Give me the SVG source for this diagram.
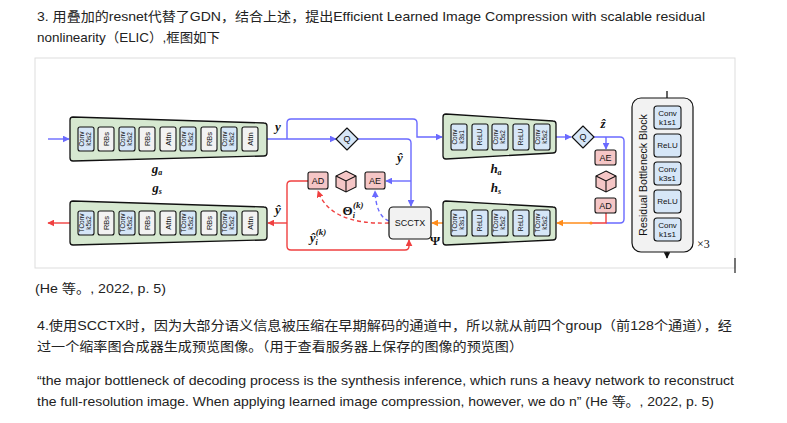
<svg xmlns="http://www.w3.org/2000/svg" width="787" height="423" viewBox="0 0 787 423">
<defs>
<style>
.t{font-family:"Liberation Sans","Noto Sans CJK SC",sans-serif;font-size:13px;fill:#222}
.trap{fill:#d6e8d0;stroke:#111;stroke-width:1.3}
.blk{fill:#f2f2f2;stroke:#111;stroke-width:1.1}
.bb{fill:#d6e6f7;stroke:#111;stroke-width:1.1}
.bl{font-family:"Liberation Sans",sans-serif;font-size:6.5px;fill:#111;text-anchor:middle}
.pk{fill:#f5c6c6;stroke:#111;stroke-width:1.1}
.lbl{font-family:"Liberation Serif",serif;font-weight:bold;font-style:italic;font-size:13px;fill:#111;text-anchor:middle}
.blue{fill:none;stroke:#6a6aff;stroke-width:1.4}
.red{fill:none;stroke:#f04040;stroke-width:1.4}
.org{fill:none;stroke:#ff8c1a;stroke-width:1.4}
.blk2{fill:none;stroke:#111;stroke-width:1.3}
</style>
<marker id="ab" viewBox="0 0 10 10" refX="9" refY="5" markerWidth="5" markerHeight="5" orient="auto"><path d="M0,0L10,5L0,10z" fill="#6a6aff"/></marker>
<marker id="ar" viewBox="0 0 10 10" refX="9" refY="5" markerWidth="5" markerHeight="5" orient="auto"><path d="M0,0L10,5L0,10z" fill="#f04040"/></marker>
<marker id="ao" viewBox="0 0 10 10" refX="9" refY="5" markerWidth="5" markerHeight="5" orient="auto"><path d="M0,0L10,5L0,10z" fill="#ff8c1a"/></marker>
<marker id="ak" viewBox="0 0 10 10" refX="9" refY="5" markerWidth="5" markerHeight="5" orient="auto"><path d="M0,0L10,5L0,10z" fill="#111"/></marker>
<g id="cubeg"><path d="M0,-10L10,-5L10,6L0,11L-10,6L-10,-5z" fill="#f5c6c6" stroke="#111" stroke-width="1.1"/><path d="M-10,-5L0,0L10,-5M0,0L0,11" fill="none" stroke="#111" stroke-width="1.1"/></g>
</defs>
<rect width="787" height="423" fill="#fff"/>
<text class="t" x="37" y="21" textLength="668" lengthAdjust="spacingAndGlyphs">3. 用叠加的resnet代替了GDN，结合上述，提出Efficient Learned Image Compression with scalable residual</text>
<text class="t" x="37" y="42" textLength="183" lengthAdjust="spacingAndGlyphs">nonlinearity（ELIC）,框图如下</text>
<rect x="35" y="58" width="700" height="210" fill="#fff" stroke="#ddd"/>
<line x1="735" y1="258" x2="735" y2="273" stroke="#222" stroke-width="1.2"/>

<g id="connectors">
<path class="blue" d="M48,139H69" marker-end="url(#ab)"/>
<path class="blue" d="M267,139H336" marker-end="url(#ab)"/>
<path class="blue" d="M287,139V123Q287,119 291,119H413Q417,119 417,123V137H442" marker-end="url(#ab)"/>
<path class="blue" d="M358,139H407Q411,139 411,143V206" marker-end="url(#ab)"/>
<path class="blue" d="M411,181H386" marker-end="url(#ab)"/>
<path class="blue" d="M556,137H571" marker-end="url(#ab)"/>
<path class="blue" d="M594,137H620Q624,137 624,141V219Q624,223 620,223H606"/>
<path class="blue" d="M606,137V149" marker-end="url(#ab)"/>
<path class="red" d="M606,213V223H591"/>
<path class="org" d="M591,223H557" marker-end="url(#ao)"/>
<circle cx="591" cy="223" r="1.6" fill="#ff8c1a"/>
<path class="org" d="M443,223H432" marker-end="url(#ao)"/>
<path class="red" d="M308,181H291Q287,181 287,185V246Q287,250 291,250H405Q409,250 409,246V240" marker-end="url(#ar)"/>
<path class="red" d="M287,223H268" marker-end="url(#ar)"/>
<path class="red" d="M70,223H48" marker-end="url(#ar)"/>
<path class="red" d="M389,223Q330,225 318,191" stroke-dasharray="4,3" marker-end="url(#ar)"/>
<path class="blue" d="M389,221Q376,216 375,191" stroke-dasharray="4,3" marker-end="url(#ab)"/>
<path class="blk2" d="M667,91V258" marker-end="url(#ak)"/>
<path class="blk2" d="M667,101H683Q687,101 687,105V242Q687,246 683,246H671" marker-end="url(#ak)"/>
</g>

<g id="ga">
<path class="trap" d="M73,117L264,123Q267,123 267,126V153Q267,156 264,156L73,161Q70,161 70,158V120Q70,117 73,117z"/>
<g transform="translate(0,127)">
<rect class="bb" x="78" width="16" height="24" rx="2"/><text class="bl" transform="translate(84,12) rotate(-90)">Conv</text><text class="bl" transform="translate(91,12) rotate(-90)">k5s2</text>
<rect class="blk" x="98" width="16" height="24" rx="2"/><text class="bl" style="font-size:7.5px" transform="translate(109,12) rotate(-90)">RBs</text>
<rect class="bb" x="119" width="16" height="24" rx="2"/><text class="bl" transform="translate(125,12) rotate(-90)">Conv</text><text class="bl" transform="translate(132,12) rotate(-90)">k5s2</text>
<rect class="blk" x="139" width="16" height="24" rx="2"/><text class="bl" style="font-size:7.5px" transform="translate(150,12) rotate(-90)">RBs</text>
<rect class="blk" x="160" width="16" height="24" rx="2"/><text class="bl" style="font-size:7.5px" transform="translate(171,12) rotate(-90)">Attn</text>
<rect class="bb" x="180" width="16" height="24" rx="2"/><text class="bl" transform="translate(186,12) rotate(-90)">Conv</text><text class="bl" transform="translate(193,12) rotate(-90)">k5s2</text>
<rect class="blk" x="201" width="16" height="24" rx="2"/><text class="bl" style="font-size:7.5px" transform="translate(212,12) rotate(-90)">RBs</text>
<rect class="bb" x="221" width="16" height="24" rx="2"/><text class="bl" transform="translate(227,12) rotate(-90)">Conv</text><text class="bl" transform="translate(234,12) rotate(-90)">k5s2</text>
<rect class="blk" x="242" width="16" height="24" rx="2"/><text class="bl" style="font-size:7.5px" transform="translate(253,12) rotate(-90)">Attn</text>
</g>
<text class="lbl" x="157" y="173">g<tspan font-size="8" dy="2">a</tspan></text>
</g>

<g id="gs">
<path class="trap" d="M73,201L264,207Q267,207 267,210V237Q267,240 264,240L73,245Q70,245 70,242V204Q70,201 73,201z"/>
<g transform="translate(0,211)">
<rect class="bb" x="78" width="16" height="24" rx="2"/><text class="bl" transform="translate(84,12) rotate(-90)">TConv</text><text class="bl" transform="translate(91,12) rotate(-90)">k5s2</text>
<rect class="blk" x="98" width="16" height="24" rx="2"/><text class="bl" style="font-size:7.5px" transform="translate(109,12) rotate(-90)">RBs</text>
<rect class="bb" x="119" width="16" height="24" rx="2"/><text class="bl" transform="translate(125,12) rotate(-90)">TConv</text><text class="bl" transform="translate(132,12) rotate(-90)">k5s2</text>
<rect class="blk" x="139" width="16" height="24" rx="2"/><text class="bl" style="font-size:7.5px" transform="translate(150,12) rotate(-90)">RBs</text>
<rect class="blk" x="160" width="16" height="24" rx="2"/><text class="bl" style="font-size:7.5px" transform="translate(171,12) rotate(-90)">Attn</text>
<rect class="bb" x="180" width="16" height="24" rx="2"/><text class="bl" transform="translate(186,12) rotate(-90)">TConv</text><text class="bl" transform="translate(193,12) rotate(-90)">k5s2</text>
<rect class="blk" x="201" width="16" height="24" rx="2"/><text class="bl" style="font-size:7.5px" transform="translate(212,12) rotate(-90)">RBs</text>
<rect class="bb" x="221" width="16" height="24" rx="2"/><text class="bl" transform="translate(227,12) rotate(-90)">TConv</text><text class="bl" transform="translate(234,12) rotate(-90)">k5s2</text>
<rect class="blk" x="242" width="16" height="24" rx="2"/><text class="bl" style="font-size:7.5px" transform="translate(253,12) rotate(-90)">Attn</text>
</g>
<text class="lbl" x="157" y="192">g<tspan font-size="8" dy="2">s</tspan></text>
</g>

<g id="ha">
<path class="trap" d="M446,114L553,121Q556,121 556,124V150Q556,153 553,153L446,159Q443,159 443,156V117Q443,114 446,114z"/>
<g transform="translate(0,124)">
<rect class="bb" x="451" width="16" height="26" rx="2"/><text class="bl" transform="translate(457,13) rotate(-90)">Conv</text><text class="bl" transform="translate(464,13) rotate(-90)">k3s1</text>
<rect class="bb" x="472" width="16" height="26" rx="2"/><text class="bl" transform="translate(482,13) rotate(-90)">ReLU</text>
<rect class="bb" x="492" width="16" height="26" rx="2"/><text class="bl" transform="translate(498,13) rotate(-90)">Conv</text><text class="bl" transform="translate(505,13) rotate(-90)">k5s2</text>
<rect class="bb" x="513" width="16" height="26" rx="2"/><text class="bl" transform="translate(523,13) rotate(-90)">ReLU</text>
<rect class="bb" x="534" width="16" height="26" rx="2"/><text class="bl" transform="translate(540,13) rotate(-90)">Conv</text><text class="bl" transform="translate(547,13) rotate(-90)">k5s2</text>
</g>
<text class="lbl" x="496" y="173">h<tspan font-size="8" dy="2">a</tspan></text>
</g>

<g id="hs">
<path class="trap" d="M446,201L553,207Q556,207 556,210V237Q556,240 553,240L446,245Q443,245 443,242V204Q443,201 446,201z"/>
<g transform="translate(0,210)">
<rect class="bb" x="451" width="16" height="26" rx="2"/><text class="bl" transform="translate(457,13) rotate(-90)">TConv</text><text class="bl" transform="translate(464,13) rotate(-90)">k3s1</text>
<rect class="bb" x="472" width="16" height="26" rx="2"/><text class="bl" transform="translate(482,13) rotate(-90)">ReLU</text>
<rect class="bb" x="492" width="16" height="26" rx="2"/><text class="bl" transform="translate(498,13) rotate(-90)">TConv</text><text class="bl" transform="translate(505,13) rotate(-90)">k5s2</text>
<rect class="bb" x="513" width="16" height="26" rx="2"/><text class="bl" transform="translate(523,13) rotate(-90)">ReLU</text>
<rect class="bb" x="534" width="16" height="26" rx="2"/><text class="bl" transform="translate(540,13) rotate(-90)">TConv</text><text class="bl" transform="translate(547,13) rotate(-90)">k5s2</text>
</g>
<text class="lbl" x="496" y="192">h<tspan font-size="8" dy="2">s</tspan></text>
</g>

<g id="q1"><path d="M347,128L358,139L347,150L336,139z" fill="#d6e6f7" stroke="#111" stroke-width="1.1" stroke-linejoin="round"/><text class="bl" style="font-size:9px" x="347" y="142">Q</text></g>
<g id="q2"><path d="M583,126L594,137L583,148L572,137z" fill="#d6e6f7" stroke="#111" stroke-width="1.1" stroke-linejoin="round"/><text class="bl" style="font-size:9px" x="583" y="140">Q</text></g>
<g id="ae1"><rect class="pk" x="365" y="172" width="20" height="17" rx="2"/><text class="bl" style="font-size:9px" x="375" y="184">AE</text></g>
<g id="cube1"><use href="#cubeg" x="346" y="181"/></g>
<g id="ad1"><rect class="pk" x="308" y="172" width="20" height="17" rx="2"/><text class="bl" style="font-size:9px" x="318" y="184">AD</text></g>
<g id="ae2"><rect class="pk" x="595" y="150" width="21" height="15" rx="2"/><text class="bl" style="font-size:9px" x="605.5" y="161">AE</text></g>
<g id="cube2"><use href="#cubeg" x="606" y="181"/></g>
<g id="ad2"><rect class="pk" x="595" y="198" width="21" height="15" rx="2"/><text class="bl" style="font-size:9px" x="605.5" y="209">AD</text></g>
<g id="scctx"><rect x="389" y="207" width="42" height="32" rx="4" fill="#f2f2f2" stroke="#111" stroke-width="1.2"/><text class="bl" style="font-size:9px" x="410" y="226">SCCTX</text></g>

<g id="labels">
<text class="lbl" x="278" y="131">y</text>
<text class="lbl" x="400" y="162">ŷ</text>
<text class="lbl" x="278" y="214">ŷ</text>
<text class="lbl" x="318" y="242">ŷ<tspan font-size="8" dy="3">i</tspan><tspan font-size="9" dx="-2" dy="-10">(k)</tspan></text>
<text class="lbl" x="353" y="215" style="font-style:normal">Θ<tspan font-size="8" font-style="italic" dy="3">i</tspan><tspan font-size="9" font-style="italic" dx="-2" dy="-10">(k)</tspan></text>
<text class="lbl" x="603" y="128">ẑ</text>
<text class="lbl" x="435" y="245" style="font-style:normal">Ψ</text>
<text x="697" y="248" style="font-family:'Liberation Serif',serif;font-size:12px;fill:#111">×3</text>
</g>

<g id="rbb">
<rect x="632" y="98" width="61" height="154" rx="9" fill="#f2f2f2" stroke="#111" stroke-width="1.2"/>
<text transform="translate(647,175) rotate(-90)" style="font-family:'Liberation Sans',sans-serif;font-size:10.5px;fill:#111;text-anchor:middle">Residual Bottleneck Block</text>
<rect class="bb" x="654" y="106" width="27" height="23" rx="3"/><text class="bl" style="font-size:8px" x="667.5" y="116">Conv</text><text class="bl" style="font-size:8px" x="667.5" y="125">k1s1</text>
<rect class="bb" x="654" y="134" width="27" height="23" rx="3"/><text class="bl" style="font-size:8px" x="667.5" y="148">ReLU</text>
<rect class="bb" x="654" y="162" width="27" height="23" rx="3"/><text class="bl" style="font-size:8px" x="667.5" y="172">Conv</text><text class="bl" style="font-size:8px" x="667.5" y="181">k3s1</text>
<rect class="bb" x="654" y="190" width="27" height="23" rx="3"/><text class="bl" style="font-size:8px" x="667.5" y="204">ReLU</text>
<rect class="bb" x="654" y="218" width="27" height="23" rx="3"/><text class="bl" style="font-size:8px" x="667.5" y="228">Conv</text><text class="bl" style="font-size:8px" x="667.5" y="237">k1s1</text>
</g>

<text class="t" x="35" y="293" textLength="131" lengthAdjust="spacingAndGlyphs">(He 等。, 2022, p. 5)</text>
<text class="t" x="37" y="330" textLength="695" lengthAdjust="spacingAndGlyphs">4.使用SCCTX时，因为大部分语义信息被压缩在早期解码的通道中，所以就从前四个group（前128个通道），经</text>
<text class="t" x="37" y="351" textLength="486" lengthAdjust="spacingAndGlyphs">过一个缩率图合成器生成预览图像。（用于查看服务器上保存的图像的预览图）</text>
<text class="t" x="37" y="385" textLength="697" lengthAdjust="spacingAndGlyphs">“the major bottleneck of decoding process is the synthesis inference, which runs a heavy network to reconstruct</text>
<text class="t" x="37" y="406" textLength="677" lengthAdjust="spacingAndGlyphs">the full-resolution image. When applying learned image compression, however, we do n” (He 等。, 2022, p. 5)</text>
</svg>
